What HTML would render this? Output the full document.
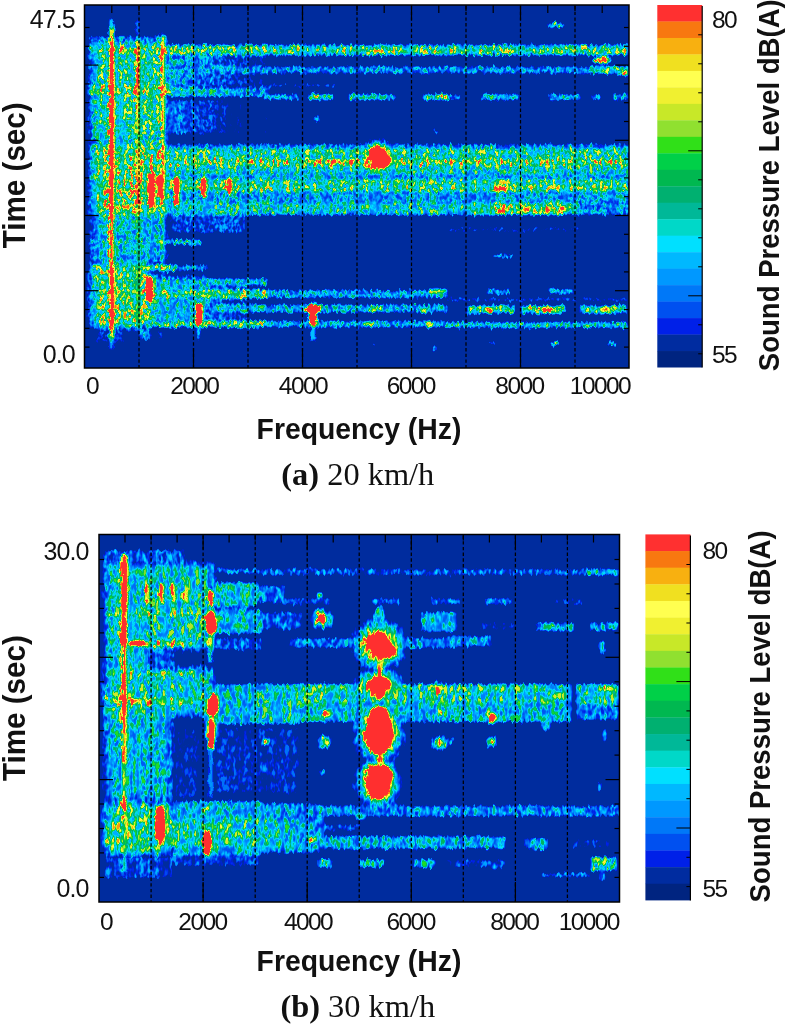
<!DOCTYPE html>
<html lang="en"><head><meta charset="utf-8"><title>Spectrograms</title>
<style>
html,body{margin:0;padding:0;background:#fff;}
body{width:785px;height:1024px;overflow:hidden;position:relative;}
svg{position:absolute;left:0;top:0;display:block;}
text{fill:#111;}
</style></head><body>
<svg width="785" height="1024" viewBox="0 0 785 1024">
<defs>
<filter id="f1" filterUnits="userSpaceOnUse" x="84.5" y="5" width="544.5" height="363" color-interpolation-filters="sRGB">
<feColorMatrix in="SourceGraphic" type="matrix" values="1 0 0 0 0  1 0 0 0 0  1 0 0 0 0  0 0 0 0 1" result="R0"/>
<feGaussianBlur in="R0" stdDeviation="1.6 1.1" result="IR1"/>
<feColorMatrix in="SourceGraphic" type="matrix" values="0 0 1 0 0  0 0 1 0 0  0 0 1 0 0  0 0 0 0 1" result="B0"/>
<feGaussianBlur in="B0" stdDeviation="5 3.5" result="IB"/>
<feBlend in="IR1" in2="IB" mode="lighten" result="IRa"/>
<feTurbulence type="fractalNoise" baseFrequency="0.42 0.05" numOctaves="1" seed="16" result="T3"/>
<feColorMatrix in="T3" type="matrix" values="0 0 0 0 0.5  0 1 0 0 0  0 0 0 0 0  0 0 0 0 1" result="D"/>
<feDisplacementMap in="IRa" in2="D" scale="7" xChannelSelector="R" yChannelSelector="G" result="IR"/>
<feColorMatrix in="SourceGraphic" type="matrix" values="0 1 0 0 0  0 1 0 0 0  0 1 0 0 0  0 0 0 0 1" result="G0"/>
<feGaussianBlur in="G0" stdDeviation="1.5 1.8" result="IG0"/>
<feTurbulence type="fractalNoise" baseFrequency="0.30 0.20" numOctaves="2" seed="7" result="T"/>
<feColorMatrix in="T" type="matrix" values="2.2 0 0 0 -0.6  2.2 0 0 0 -0.6  2.2 0 0 0 -0.6  0 0 0 0 1" result="N0"/>
<feComponentTransfer in="N0" result="N1"><feFuncR type="gamma" exponent="1.5"/><feFuncG type="gamma" exponent="1.5"/><feFuncB type="gamma" exponent="1.5"/></feComponentTransfer>
<feTurbulence type="fractalNoise" baseFrequency="0.2 0.012" numOctaves="2" seed="10" result="T2"/>
<feColorMatrix in="T2" type="matrix" values="0 2.4 0 0 -0.7  0 2.4 0 0 -0.7  0 2.4 0 0 -0.7  0 0 0 0 1" result="N2"/>
<feComposite in="N1" in2="N2" operator="arithmetic" k1="1.2" k2="0.4" k3="0" k4="0" result="N"/>
<feComposite in="IR" in2="N" operator="arithmetic" k1="1.120" k2="0.640" k3="0" k4="-0.10" result="VR"/>
<feDisplacementMap in="IG0" in2="T" scale="5" xChannelSelector="R" yChannelSelector="G" result="IG"/>
<feComposite in="VR" in2="IG" operator="arithmetic" k1="0" k2="1" k3="1.5" k4="0" result="V"/>
<feComponentTransfer in="V" result="C">
<feFuncR type="table" tableValues="0.000 0.000 0.000 0.000 0.000 0.000 0.000 0.000 0.000 0.000 0.000 0.000 0.000 0.188 0.565 0.784 0.941 1.000 0.941 0.973 0.973 1.000"/>
<feFuncG type="table" tableValues="0.173 0.173 0.125 0.314 0.471 0.596 0.722 0.878 0.847 0.722 0.690 0.722 0.816 0.878 0.878 0.910 0.941 1.000 0.878 0.690 0.471 0.188"/>
<feFuncB type="table" tableValues="0.620 0.620 0.910 0.941 0.973 1.000 1.000 1.000 0.784 0.596 0.439 0.314 0.282 0.094 0.188 0.157 0.188 0.314 0.125 0.063 0.063 0.188"/>
<feFuncA type="linear" slope="0" intercept="1"/>
</feComponentTransfer>
<feGaussianBlur stdDeviation="0.65"/>
</filter>
<filter id="f2" filterUnits="userSpaceOnUse" x="99" y="534.5" width="520.5" height="367.5" color-interpolation-filters="sRGB">
<feColorMatrix in="SourceGraphic" type="matrix" values="1 0 0 0 0  1 0 0 0 0  1 0 0 0 0  0 0 0 0 1" result="R0"/>
<feGaussianBlur in="R0" stdDeviation="1.6 1.1" result="IR1"/>
<feColorMatrix in="SourceGraphic" type="matrix" values="0 0 1 0 0  0 0 1 0 0  0 0 1 0 0  0 0 0 0 1" result="B0"/>
<feGaussianBlur in="B0" stdDeviation="5 3.5" result="IB"/>
<feBlend in="IR1" in2="IB" mode="lighten" result="IRa"/>
<feTurbulence type="fractalNoise" baseFrequency="0.42 0.05" numOctaves="1" seed="20" result="T3"/>
<feColorMatrix in="T3" type="matrix" values="0 0 0 0 0.5  0 1 0 0 0  0 0 0 0 0  0 0 0 0 1" result="D"/>
<feDisplacementMap in="IRa" in2="D" scale="7" xChannelSelector="R" yChannelSelector="G" result="IR"/>
<feColorMatrix in="SourceGraphic" type="matrix" values="0 1 0 0 0  0 1 0 0 0  0 1 0 0 0  0 0 0 0 1" result="G0"/>
<feGaussianBlur in="G0" stdDeviation="1.5 1.8" result="IG0"/>
<feTurbulence type="fractalNoise" baseFrequency="0.27 0.13" numOctaves="2" seed="11" result="T"/>
<feColorMatrix in="T" type="matrix" values="2.2 0 0 0 -0.6  2.2 0 0 0 -0.6  2.2 0 0 0 -0.6  0 0 0 0 1" result="N0"/>
<feComponentTransfer in="N0" result="N1"><feFuncR type="gamma" exponent="1.5"/><feFuncG type="gamma" exponent="1.5"/><feFuncB type="gamma" exponent="1.5"/></feComponentTransfer>
<feTurbulence type="fractalNoise" baseFrequency="0.2 0.012" numOctaves="2" seed="14" result="T2"/>
<feColorMatrix in="T2" type="matrix" values="0 2.4 0 0 -0.7  0 2.4 0 0 -0.7  0 2.4 0 0 -0.7  0 0 0 0 1" result="N2"/>
<feComposite in="N1" in2="N2" operator="arithmetic" k1="1.2" k2="0.4" k3="0" k4="0" result="N"/>
<feComposite in="IR" in2="N" operator="arithmetic" k1="1.120" k2="0.640" k3="0" k4="-0.10" result="VR"/>
<feDisplacementMap in="IG0" in2="T" scale="5" xChannelSelector="R" yChannelSelector="G" result="IG"/>
<feComposite in="VR" in2="IG" operator="arithmetic" k1="0" k2="1" k3="1.5" k4="0" result="V"/>
<feComponentTransfer in="V" result="C">
<feFuncR type="table" tableValues="0.000 0.000 0.000 0.000 0.000 0.000 0.000 0.000 0.000 0.000 0.000 0.000 0.000 0.188 0.565 0.784 0.941 1.000 0.941 0.973 0.973 1.000"/>
<feFuncG type="table" tableValues="0.173 0.173 0.125 0.314 0.471 0.596 0.722 0.878 0.847 0.722 0.690 0.722 0.816 0.878 0.878 0.910 0.941 1.000 0.878 0.690 0.471 0.188"/>
<feFuncB type="table" tableValues="0.620 0.620 0.910 0.941 0.973 1.000 1.000 1.000 0.784 0.596 0.439 0.314 0.282 0.094 0.188 0.157 0.188 0.314 0.125 0.063 0.063 0.188"/>
<feFuncA type="linear" slope="0" intercept="1"/>
</feComponentTransfer>
<feGaussianBlur stdDeviation="0.65"/>
</filter>
<linearGradient id="g1" x1="0" x2="1" y1="0" y2="0"><stop offset="0" stop-color="rgb(92,0,0)"/><stop offset="1" stop-color="rgb(20,0,0)"/></linearGradient>
<linearGradient id="g2" x1="0" x2="1" y1="0" y2="0"><stop offset="0" stop-color="rgb(82,0,0)"/><stop offset="1" stop-color="rgb(20,0,0)"/></linearGradient>
<linearGradient id="g3" x1="0" x2="1" y1="0" y2="0"><stop offset="0" stop-color="rgb(128,0,0)"/><stop offset="1" stop-color="rgb(76,0,0)"/></linearGradient>
<radialGradient id="r4"><stop offset="0" stop-color="rgb(255,0,0)"/><stop offset="1" stop-color="#000"/></radialGradient>
<radialGradient id="r5"><stop offset="0" stop-color="rgb(0,128,0)"/><stop offset="1" stop-color="#000"/></radialGradient>
<linearGradient id="g6" x1="0" x2="1" y1="0" y2="0"><stop offset="0" stop-color="rgb(76,0,0)"/><stop offset="1" stop-color="rgb(20,0,0)"/></linearGradient>
<radialGradient id="r7"><stop offset="0" stop-color="rgb(255,0,0)"/><stop offset="1" stop-color="#000"/></radialGradient>
<radialGradient id="r8"><stop offset="0" stop-color="rgb(230,0,0)"/><stop offset="1" stop-color="#000"/></radialGradient>
<radialGradient id="r9"><stop offset="0" stop-color="rgb(230,0,0)"/><stop offset="1" stop-color="#000"/></radialGradient>
<radialGradient id="r10"><stop offset="0" stop-color="rgb(255,0,0)"/><stop offset="1" stop-color="#000"/></radialGradient>
<radialGradient id="r11"><stop offset="0" stop-color="rgb(0,89,0)"/><stop offset="1" stop-color="#000"/></radialGradient>
<radialGradient id="r12"><stop offset="0" stop-color="rgb(255,0,0)"/><stop offset="1" stop-color="#000"/></radialGradient>
<radialGradient id="r13"><stop offset="0" stop-color="rgb(0,76,0)"/><stop offset="1" stop-color="#000"/></radialGradient>
<radialGradient id="r14"><stop offset="0" stop-color="rgb(255,0,0)"/><stop offset="1" stop-color="#000"/></radialGradient>
<radialGradient id="r15"><stop offset="0" stop-color="rgb(0,89,0)"/><stop offset="1" stop-color="#000"/></radialGradient>
<radialGradient id="r16"><stop offset="0" stop-color="rgb(255,0,0)"/><stop offset="1" stop-color="#000"/></radialGradient>
<radialGradient id="r17"><stop offset="0" stop-color="rgb(0,89,0)"/><stop offset="1" stop-color="#000"/></radialGradient>
<radialGradient id="r18"><stop offset="0" stop-color="rgb(230,0,0)"/><stop offset="1" stop-color="#000"/></radialGradient>
<radialGradient id="r19"><stop offset="0" stop-color="rgb(242,0,0)"/><stop offset="1" stop-color="#000"/></radialGradient>
<radialGradient id="r20"><stop offset="0" stop-color="rgb(230,0,0)"/><stop offset="1" stop-color="#000"/></radialGradient>
<radialGradient id="r21"><stop offset="0" stop-color="rgb(230,0,0)"/><stop offset="1" stop-color="#000"/></radialGradient>
<radialGradient id="r22"><stop offset="0" stop-color="rgb(230,0,0)"/><stop offset="1" stop-color="#000"/></radialGradient>
<radialGradient id="r23"><stop offset="0" stop-color="rgb(204,0,0)"/><stop offset="1" stop-color="#000"/></radialGradient>
<radialGradient id="r24"><stop offset="0" stop-color="rgb(191,0,0)"/><stop offset="1" stop-color="#000"/></radialGradient>
<radialGradient id="r25"><stop offset="0" stop-color="rgb(255,0,0)"/><stop offset="1" stop-color="#000"/></radialGradient>
<radialGradient id="r26"><stop offset="0" stop-color="rgb(255,0,0)"/><stop offset="1" stop-color="#000"/></radialGradient>
<radialGradient id="r27"><stop offset="0" stop-color="rgb(230,0,0)"/><stop offset="1" stop-color="#000"/></radialGradient>
<linearGradient id="g28" x1="0" x2="1" y1="0" y2="0"><stop offset="0" stop-color="rgb(97,0,0)"/><stop offset="1" stop-color="rgb(51,0,0)"/></linearGradient>
<linearGradient id="g29" x1="0" x2="1" y1="0" y2="0"><stop offset="0" stop-color="rgb(120,0,0)"/><stop offset="1" stop-color="rgb(76,0,0)"/></linearGradient>
</defs>
<g filter="url(#f1)"><rect x="84.5" y="5.0" width="544.5" height="363.0" fill="#000"/>
<rect x="91.0" y="40.0" width="75.0" height="94.0" fill="rgb(0,0,133)" opacity="1" style="mix-blend-mode:lighten"/>
<rect x="91.0" y="134.0" width="75.0" height="12.0" fill="rgb(0,0,107)" opacity="1" style="mix-blend-mode:lighten"/>
<rect x="91.0" y="146.0" width="81.0" height="68.0" fill="rgb(0,0,158)" opacity="1" style="mix-blend-mode:lighten"/>
<rect x="91.0" y="214.0" width="75.0" height="48.0" fill="rgb(0,0,97)" opacity="1" style="mix-blend-mode:lighten"/>
<rect x="91.0" y="264.0" width="59.0" height="64.0" fill="rgb(0,0,153)" opacity="1" style="mix-blend-mode:lighten"/>
<rect x="96.0" y="330.0" width="29.0" height="13.0" fill="rgb(46,0,0)" opacity="1" style="mix-blend-mode:lighten"/>
<rect x="89.0" y="36.0" width="79.0" height="6.0" fill="rgb(76,0,0)" opacity="1" style="mix-blend-mode:lighten"/>
<rect x="166.0" y="56.0" width="109.0" height="30.0" fill="url(#g1)" opacity="1" style="mix-blend-mode:lighten"/>
<rect x="166.0" y="100.0" width="84.0" height="34.0" fill="url(#g2)" opacity="1" style="mix-blend-mode:lighten"/>
<rect x="89.0" y="44.5" width="540.0" height="11.0" fill="rgb(115,0,0)" opacity="1" style="mix-blend-mode:lighten"/>
<rect x="89.0" y="47.8" width="540.0" height="5.5" fill="rgb(153,0,0)" opacity="1" style="mix-blend-mode:lighten"/>
<rect x="112.0" y="47.0" width="28.0" height="4.0" fill="rgb(204,0,0)" opacity="1" style="mix-blend-mode:lighten"/>
<rect x="165.0" y="66.5" width="435.0" height="7.0" fill="rgb(84,0,0)" opacity="1" style="mix-blend-mode:lighten"/>
<rect x="590.0" y="66.0" width="39.0" height="8.0" fill="rgb(133,0,0)" opacity="1" style="mix-blend-mode:lighten"/>
<ellipse cx="624.0" cy="73.0" rx="4.0" ry="2.0" fill="rgb(0,140,0)" opacity="1" style="mix-blend-mode:lighten"/>
<ellipse cx="602.0" cy="60.0" rx="6.0" ry="2.5" fill="rgb(0,128,0)" opacity="1" style="mix-blend-mode:lighten"/>
<ellipse cx="602.0" cy="60.0" rx="10.0" ry="4.0" fill="rgb(128,0,0)" opacity="1" style="mix-blend-mode:lighten"/>
<rect x="89.0" y="84.0" width="81.0" height="12.0" fill="rgb(158,0,0)" opacity="1" style="mix-blend-mode:lighten"/>
<rect x="170.0" y="87.0" width="100.0" height="10.0" fill="url(#g3)" opacity="1" style="mix-blend-mode:lighten"/>
<rect x="264.0" y="94.0" width="35.0" height="6.0" fill="rgb(82,0,0)" opacity="1" style="mix-blend-mode:lighten"/>
<rect x="308.0" y="94.0" width="26.0" height="6.0" fill="rgb(107,0,0)" opacity="1" style="mix-blend-mode:lighten"/>
<rect x="348.0" y="94.0" width="47.0" height="6.0" fill="rgb(115,0,0)" opacity="1" style="mix-blend-mode:lighten"/>
<rect x="423.0" y="94.0" width="25.0" height="6.0" fill="rgb(128,0,0)" opacity="1" style="mix-blend-mode:lighten"/>
<rect x="446.0" y="94.0" width="14.0" height="6.0" fill="rgb(76,0,0)" opacity="1" style="mix-blend-mode:lighten"/>
<rect x="481.0" y="94.0" width="38.0" height="6.0" fill="rgb(107,0,0)" opacity="1" style="mix-blend-mode:lighten"/>
<rect x="549.0" y="94.0" width="31.0" height="6.0" fill="rgb(102,0,0)" opacity="1" style="mix-blend-mode:lighten"/>
<rect x="591.0" y="94.0" width="10.0" height="6.0" fill="rgb(76,0,0)" opacity="1" style="mix-blend-mode:lighten"/>
<rect x="612.0" y="94.0" width="17.0" height="6.0" fill="rgb(92,0,0)" opacity="1" style="mix-blend-mode:lighten"/>
<rect x="264.0" y="84.0" width="76.0" height="3.0" fill="rgb(51,0,0)" opacity="1" style="mix-blend-mode:lighten"/>
<ellipse cx="317.0" cy="119.0" rx="2.5" ry="2.5" fill="rgb(153,0,0)" opacity="1" style="mix-blend-mode:lighten"/>
<ellipse cx="317.0" cy="97.0" rx="3.0" ry="3.0" fill="rgb(166,0,0)" opacity="1" style="mix-blend-mode:lighten"/>
<ellipse cx="444.0" cy="97.0" rx="3.0" ry="1.5" fill="rgb(0,115,0)" opacity="1" style="mix-blend-mode:lighten"/>
<ellipse cx="266.0" cy="119.0" rx="2.0" ry="2.0" fill="rgb(76,0,0)" opacity="1" style="mix-blend-mode:lighten"/>
<ellipse cx="266.0" cy="131.0" rx="2.0" ry="2.0" fill="rgb(76,0,0)" opacity="1" style="mix-blend-mode:lighten"/>
<ellipse cx="437.0" cy="131.0" rx="4.0" ry="2.0" fill="rgb(64,0,0)" opacity="1" style="mix-blend-mode:lighten"/>
<ellipse cx="503.0" cy="108.0" rx="2.0" ry="2.0" fill="rgb(64,0,0)" opacity="1" style="mix-blend-mode:lighten"/>
<ellipse cx="556.0" cy="25.0" rx="9.0" ry="2.5" fill="rgb(128,0,0)" opacity="1" style="mix-blend-mode:lighten"/>
<rect x="166.0" y="144.0" width="463.0" height="5.0" fill="rgb(76,0,0)" opacity="1" style="mix-blend-mode:lighten"/>
<rect x="166.0" y="148.0" width="463.0" height="26.0" fill="rgb(117,0,0)" opacity="1" style="mix-blend-mode:lighten"/>
<rect x="166.0" y="149.5" width="463.0" height="5.0" fill="rgb(138,0,0)" opacity="1" style="mix-blend-mode:lighten"/>
<rect x="166.0" y="158.5" width="463.0" height="7.0" fill="rgb(168,0,0)" opacity="1" style="mix-blend-mode:lighten"/>
<rect x="316.0" y="159.5" width="42.0" height="5.0" fill="rgb(217,0,0)" opacity="1" style="mix-blend-mode:lighten"/>
<ellipse cx="378.0" cy="158.0" rx="8.0" ry="9.5" fill="rgb(0,255,0)" opacity="1" style="mix-blend-mode:lighten"/>
<ellipse cx="384.0" cy="160.0" rx="6.0" ry="6.0" fill="rgb(0,255,0)" opacity="1" style="mix-blend-mode:lighten"/>
<ellipse cx="374.0" cy="153.0" rx="4.0" ry="5.0" fill="rgb(0,230,0)" opacity="1" style="mix-blend-mode:lighten"/>
<ellipse cx="377.0" cy="149.0" rx="2.5" ry="4.0" fill="rgb(0,178,0)" opacity="1" style="mix-blend-mode:lighten"/>
<ellipse cx="378.0" cy="158.0" rx="24.0" ry="22.0" fill="url(#r4)" style="mix-blend-mode:lighten"/>
<ellipse cx="378.0" cy="158.0" rx="17.0" ry="17.0" fill="url(#r5)" style="mix-blend-mode:lighten"/>
<rect x="166.0" y="174.0" width="463.0" height="6.0" fill="rgb(87,0,0)" opacity="1" style="mix-blend-mode:lighten"/>
<rect x="166.0" y="179.0" width="463.0" height="13.0" fill="rgb(122,0,0)" opacity="1" style="mix-blend-mode:lighten"/>
<rect x="166.0" y="180.2" width="463.0" height="4.5" fill="rgb(143,0,0)" opacity="1" style="mix-blend-mode:lighten"/>
<rect x="166.0" y="186.2" width="463.0" height="4.5" fill="rgb(153,0,0)" opacity="1" style="mix-blend-mode:lighten"/>
<ellipse cx="501.0" cy="188.0" rx="8.0" ry="2.0" fill="rgb(0,153,0)" opacity="1" style="mix-blend-mode:lighten"/>
<rect x="148.3" y="173.0" width="5.0" height="34.0" rx="2.5" fill="rgb(0,242,0)" opacity="1" style="mix-blend-mode:lighten"/>
<rect x="157.5" y="175.0" width="3.0" height="21.0" rx="1.5" fill="rgb(0,242,0)" opacity="1" style="mix-blend-mode:lighten"/>
<rect x="174.8" y="176.0" width="3.5" height="29.0" rx="1.8" fill="rgb(0,242,0)" opacity="1" style="mix-blend-mode:lighten"/>
<rect x="201.8" y="176.0" width="3.5" height="22.0" rx="1.8" fill="rgb(0,242,0)" opacity="1" style="mix-blend-mode:lighten"/>
<rect x="227.5" y="178.0" width="3.0" height="17.0" rx="1.5" fill="rgb(0,242,0)" opacity="1" style="mix-blend-mode:lighten"/>
<rect x="166.0" y="192.0" width="463.0" height="11.0" fill="rgb(87,0,0)" opacity="1" style="mix-blend-mode:lighten"/>
<rect x="170.0" y="203.0" width="94.0" height="12.0" fill="rgb(115,0,0)" opacity="1" style="mix-blend-mode:lighten"/>
<rect x="264.0" y="203.0" width="184.0" height="12.0" fill="rgb(117,0,0)" opacity="1" style="mix-blend-mode:lighten"/>
<rect x="446.0" y="203.0" width="24.0" height="12.0" fill="rgb(117,0,0)" opacity="1" style="mix-blend-mode:lighten"/>
<rect x="469.0" y="203.0" width="108.0" height="12.0" fill="rgb(153,0,0)" opacity="1" style="mix-blend-mode:lighten"/>
<ellipse cx="502.0" cy="209.0" rx="3.5" ry="1.8" fill="rgb(0,140,0)" opacity="1" style="mix-blend-mode:lighten"/>
<ellipse cx="526.0" cy="209.0" rx="3.5" ry="1.8" fill="rgb(0,140,0)" opacity="1" style="mix-blend-mode:lighten"/>
<ellipse cx="547.0" cy="209.0" rx="3.5" ry="1.8" fill="rgb(0,140,0)" opacity="1" style="mix-blend-mode:lighten"/>
<ellipse cx="563.0" cy="209.0" rx="3.5" ry="1.8" fill="rgb(0,140,0)" opacity="1" style="mix-blend-mode:lighten"/>
<rect x="577.0" y="203.0" width="52.0" height="12.0" fill="rgb(76,0,0)" opacity="1" style="mix-blend-mode:lighten"/>
<rect x="170.0" y="215.0" width="75.0" height="18.0" fill="rgb(56,0,0)" opacity="1" style="mix-blend-mode:lighten"/>
<rect x="446.0" y="228.0" width="134.0" height="3.0" fill="rgb(51,0,0)" opacity="1" style="mix-blend-mode:lighten"/>
<rect x="89.0" y="239.5" width="112.0" height="5.0" fill="rgb(122,0,0)" opacity="1" style="mix-blend-mode:lighten"/>
<ellipse cx="503.0" cy="256.0" rx="11.0" ry="2.0" fill="rgb(92,0,0)" opacity="1" style="mix-blend-mode:lighten"/>
<rect x="91.0" y="264.5" width="84.0" height="7.0" fill="rgb(148,0,0)" opacity="1" style="mix-blend-mode:lighten"/>
<rect x="175.0" y="265.0" width="33.0" height="6.0" fill="rgb(76,0,0)" opacity="1" style="mix-blend-mode:lighten"/>
<rect x="150.0" y="277.0" width="58.0" height="49.0" fill="rgb(0,0,102)" opacity="1" style="mix-blend-mode:lighten"/>
<rect x="205.0" y="278.0" width="50.0" height="49.0" fill="url(#g6)" opacity="1" style="mix-blend-mode:lighten"/>
<rect x="152.0" y="278.5" width="116.0" height="7.0" fill="rgb(107,0,0)" opacity="1" style="mix-blend-mode:lighten"/>
<rect x="150.0" y="289.5" width="118.0" height="9.0" fill="rgb(153,0,0)" opacity="1" style="mix-blend-mode:lighten"/>
<rect x="268.0" y="290.0" width="180.0" height="8.0" fill="rgb(87,0,0)" opacity="1" style="mix-blend-mode:lighten"/>
<ellipse cx="438.0" cy="291.0" rx="9.0" ry="1.8" fill="rgb(0,128,0)" opacity="1" style="mix-blend-mode:lighten"/>
<rect x="487.0" y="289.0" width="23.0" height="5.0" fill="rgb(107,0,0)" opacity="1" style="mix-blend-mode:lighten"/>
<rect x="549.0" y="289.0" width="24.0" height="5.0" fill="rgb(107,0,0)" opacity="1" style="mix-blend-mode:lighten"/>
<rect x="446.0" y="297.5" width="183.0" height="4.0" fill="rgb(51,0,0)" opacity="1" style="mix-blend-mode:lighten"/>
<rect x="213.0" y="304.5" width="55.0" height="8.0" fill="rgb(107,0,0)" opacity="1" style="mix-blend-mode:lighten"/>
<rect x="268.0" y="304.5" width="180.0" height="8.0" fill="rgb(92,0,0)" opacity="1" style="mix-blend-mode:lighten"/>
<ellipse cx="374.0" cy="308.0" rx="7.0" ry="3.0" fill="rgb(178,0,0)" opacity="1" style="mix-blend-mode:lighten"/>
<ellipse cx="426.0" cy="309.0" rx="3.0" ry="4.0" fill="rgb(178,0,0)" opacity="1" style="mix-blend-mode:lighten"/>
<rect x="467.0" y="305.5" width="47.0" height="8.0" fill="rgb(143,0,0)" opacity="1" style="mix-blend-mode:lighten"/>
<rect x="521.0" y="305.5" width="44.0" height="8.0" fill="rgb(153,0,0)" opacity="1" style="mix-blend-mode:lighten"/>
<rect x="580.0" y="305.5" width="46.0" height="8.0" fill="rgb(143,0,0)" opacity="1" style="mix-blend-mode:lighten"/>
<ellipse cx="489.0" cy="309.5" rx="3.5" ry="1.8" fill="rgb(0,153,0)" opacity="1" style="mix-blend-mode:lighten"/>
<ellipse cx="547.0" cy="309.5" rx="8.0" ry="1.8" fill="rgb(0,153,0)" opacity="1" style="mix-blend-mode:lighten"/>
<ellipse cx="605.0" cy="309.5" rx="5.0" ry="1.8" fill="rgb(0,153,0)" opacity="1" style="mix-blend-mode:lighten"/>
<rect x="150.0" y="320.8" width="118.0" height="6.5" fill="rgb(153,0,0)" opacity="1" style="mix-blend-mode:lighten"/>
<rect x="268.0" y="320.8" width="180.0" height="6.5" fill="rgb(92,0,0)" opacity="1" style="mix-blend-mode:lighten"/>
<rect x="446.0" y="322.0" width="183.0" height="6.0" fill="rgb(112,0,0)" opacity="1" style="mix-blend-mode:lighten"/>
<ellipse cx="369.0" cy="324.0" rx="5.0" ry="1.8" fill="rgb(0,128,0)" opacity="1" style="mix-blend-mode:lighten"/>
<ellipse cx="429.0" cy="324.0" rx="4.0" ry="1.8" fill="rgb(0,140,0)" opacity="1" style="mix-blend-mode:lighten"/>
<rect x="146.8" y="277.0" width="5.5" height="24.0" rx="2.8" fill="rgb(0,255,0)" opacity="1" style="mix-blend-mode:lighten"/>
<rect x="196.2" y="303.0" width="5.5" height="21.0" rx="2.8" fill="rgb(0,255,0)" opacity="1" style="mix-blend-mode:lighten"/>
<ellipse cx="313.0" cy="309.0" rx="7.5" ry="4.5" fill="rgb(0,255,0)" opacity="1" style="mix-blend-mode:lighten"/>
<ellipse cx="313.0" cy="319.0" rx="3.5" ry="6.5" fill="rgb(0,255,0)" opacity="1" style="mix-blend-mode:lighten"/>
<rect x="311.8" y="322.0" width="2.5" height="19.0" rx="1.2" fill="rgb(0,89,0)" opacity="1" style="mix-blend-mode:lighten"/>
<ellipse cx="492.0" cy="343.5" rx="3.0" ry="1.5" fill="rgb(89,0,0)" opacity="1" style="mix-blend-mode:lighten"/>
<ellipse cx="555.0" cy="343.5" rx="4.0" ry="2.0" fill="rgb(178,0,0)" opacity="1" style="mix-blend-mode:lighten"/>
<ellipse cx="612.0" cy="343.5" rx="5.0" ry="2.0" fill="rgb(128,0,0)" opacity="1" style="mix-blend-mode:lighten"/>
<ellipse cx="374.0" cy="343.5" rx="3.0" ry="1.2" fill="rgb(76,0,0)" opacity="1" style="mix-blend-mode:lighten"/>
<ellipse cx="435.0" cy="348.0" rx="3.0" ry="3.0" fill="rgb(76,0,0)" opacity="1" style="mix-blend-mode:lighten"/>
<rect x="138.0" y="329.0" width="14.0" height="11.0" fill="rgb(76,0,0)" opacity="1" style="mix-blend-mode:lighten"/>
<ellipse cx="161.0" cy="335.0" rx="2.0" ry="4.0" fill="rgb(76,0,0)" opacity="1" style="mix-blend-mode:lighten"/>
<ellipse cx="199.0" cy="332.0" rx="2.0" ry="8.0" fill="rgb(102,0,0)" opacity="1" style="mix-blend-mode:lighten"/>
<rect x="110.7" y="19.0" width="1.6" height="12.0" rx="0.8" fill="rgb(0,153,0)" opacity="1" style="mix-blend-mode:lighten"/>
<rect x="110.3" y="28.0" width="2.4" height="310.0" rx="1.2" fill="rgb(0,255,0)" opacity="1" style="mix-blend-mode:lighten"/>
<rect x="110.7" y="336.0" width="1.6" height="13.0" rx="0.8" fill="rgb(0,102,0)" opacity="1" style="mix-blend-mode:lighten"/>
<rect x="136.8" y="21.0" width="1.5" height="13.0" rx="0.8" fill="rgb(0,89,0)" opacity="1" style="mix-blend-mode:lighten"/>
<rect x="136.6" y="40.0" width="1.9" height="175.0" rx="0.9" fill="rgb(0,158,0)" opacity="1" style="mix-blend-mode:lighten"/>
<rect x="136.7" y="215.0" width="1.6" height="115.0" rx="0.8" fill="rgb(0,89,0)" opacity="1" style="mix-blend-mode:lighten"/>
<rect x="161.5" y="35.0" width="2.0" height="90.0" rx="1.0" fill="rgb(0,204,0)" opacity="1" style="mix-blend-mode:lighten"/>
<rect x="161.6" y="125.0" width="1.8" height="75.0" rx="0.9" fill="rgb(0,153,0)" opacity="1" style="mix-blend-mode:lighten"/>
<rect x="161.8" y="200.0" width="1.5" height="100.0" rx="0.8" fill="rgb(0,64,0)" opacity="1" style="mix-blend-mode:lighten"/>
</g>
<g filter="url(#f2)"><rect x="99.0" y="534.5" width="520.5" height="367.5" fill="#000"/>
<rect x="104.0" y="562.0" width="110.0" height="50.0" fill="rgb(0,0,110)" opacity="1" style="mix-blend-mode:lighten"/>
<rect x="104.0" y="612.0" width="110.0" height="38.0" fill="rgb(0,0,115)" opacity="1" style="mix-blend-mode:lighten"/>
<rect x="104.0" y="650.0" width="46.0" height="20.0" fill="rgb(0,0,102)" opacity="1" style="mix-blend-mode:lighten"/>
<rect x="150.0" y="650.0" width="25.0" height="18.0" fill="rgb(56,0,0)" opacity="1" style="mix-blend-mode:lighten"/>
<rect x="104.0" y="668.0" width="110.0" height="48.0" fill="rgb(0,0,120)" opacity="1" style="mix-blend-mode:lighten"/>
<rect x="104.0" y="716.0" width="68.0" height="82.0" fill="rgb(0,0,102)" opacity="1" style="mix-blend-mode:lighten"/>
<rect x="174.0" y="730.0" width="26.0" height="68.0" fill="rgb(36,0,0)" opacity="1" style="mix-blend-mode:lighten"/>
<rect x="103.0" y="550.0" width="82.0" height="14.0" fill="rgb(61,0,0)" opacity="1" style="mix-blend-mode:lighten"/>
<rect x="104.0" y="611.5" width="96.0" height="6.0" fill="rgb(153,0,0)" opacity="1" style="mix-blend-mode:lighten"/>
<rect x="127.0" y="640.0" width="59.0" height="7.0" fill="rgb(178,0,0)" opacity="1" style="mix-blend-mode:lighten"/>
<ellipse cx="138.0" cy="643.5" rx="10.0" ry="2.0" fill="rgb(0,153,0)" opacity="1" style="mix-blend-mode:lighten"/>
<rect x="127.0" y="671.0" width="68.0" height="6.0" fill="rgb(153,0,0)" opacity="1" style="mix-blend-mode:lighten"/>
<rect x="104.0" y="696.0" width="99.0" height="10.0" fill="rgb(163,0,0)" opacity="1" style="mix-blend-mode:lighten"/>
<ellipse cx="134.0" cy="701.0" rx="4.0" ry="2.0" fill="rgb(0,128,0)" opacity="1" style="mix-blend-mode:lighten"/>
<rect x="200.0" y="568.5" width="62.0" height="5.0" fill="rgb(76,0,0)" opacity="1" style="mix-blend-mode:lighten"/>
<rect x="214.0" y="582.0" width="44.0" height="24.0" fill="rgb(107,0,0)" opacity="1" style="mix-blend-mode:lighten"/>
<rect x="258.0" y="586.0" width="27.0" height="16.0" fill="rgb(71,0,0)" opacity="1" style="mix-blend-mode:lighten"/>
<rect x="214.0" y="609.0" width="48.0" height="25.0" fill="rgb(102,0,0)" opacity="1" style="mix-blend-mode:lighten"/>
<rect x="262.0" y="612.0" width="38.0" height="18.0" fill="rgb(64,0,0)" opacity="1" style="mix-blend-mode:lighten"/>
<rect x="214.0" y="638.0" width="48.0" height="12.0" fill="rgb(61,0,0)" opacity="1" style="mix-blend-mode:lighten"/>
<rect x="214.0" y="604.0" width="36.0" height="8.0" fill="rgb(51,0,0)" opacity="1" style="mix-blend-mode:lighten"/>
<rect x="262.0" y="568.8" width="183.0" height="6.5" fill="rgb(64,0,0)" opacity="1" style="mix-blend-mode:lighten"/>
<rect x="445.0" y="568.8" width="138.0" height="6.5" fill="rgb(61,0,0)" opacity="1" style="mix-blend-mode:lighten"/>
<rect x="583.0" y="568.8" width="36.0" height="6.5" fill="rgb(102,0,0)" opacity="1" style="mix-blend-mode:lighten"/>
<ellipse cx="612.0" cy="572.5" rx="6.0" ry="2.5" fill="rgb(128,0,0)" opacity="1" style="mix-blend-mode:lighten"/>
<rect x="271.0" y="598.2" width="59.0" height="6.5" fill="rgb(64,0,0)" opacity="1" style="mix-blend-mode:lighten"/>
<rect x="372.0" y="598.2" width="28.0" height="6.5" fill="rgb(64,0,0)" opacity="1" style="mix-blend-mode:lighten"/>
<rect x="430.0" y="598.2" width="30.0" height="6.5" fill="rgb(71,0,0)" opacity="1" style="mix-blend-mode:lighten"/>
<rect x="485.0" y="598.2" width="26.0" height="6.5" fill="rgb(82,0,0)" opacity="1" style="mix-blend-mode:lighten"/>
<rect x="555.0" y="598.2" width="30.0" height="6.5" fill="rgb(41,0,0)" opacity="1" style="mix-blend-mode:lighten"/>
<ellipse cx="320.0" cy="595.0" rx="2.5" ry="3.0" fill="rgb(153,0,0)" opacity="1" style="mix-blend-mode:lighten"/>
<rect x="271.0" y="612.0" width="31.0" height="18.0" fill="rgb(51,0,0)" opacity="1" style="mix-blend-mode:lighten"/>
<ellipse cx="321.5" cy="619.0" rx="14.0" ry="13.0" fill="url(#r7)" style="mix-blend-mode:lighten"/>
<ellipse cx="321.5" cy="618.7" rx="3.0" ry="4.0" fill="rgb(0,204,0)" opacity="1" style="mix-blend-mode:lighten"/>
<rect x="421.0" y="612.0" width="36.0" height="20.0" fill="rgb(102,0,0)" opacity="1" style="mix-blend-mode:lighten"/>
<ellipse cx="433.0" cy="620.0" rx="2.5" ry="6.0" fill="rgb(166,0,0)" opacity="1" style="mix-blend-mode:lighten"/>
<rect x="478.0" y="622.0" width="37.0" height="8.0" fill="rgb(36,0,0)" opacity="1" style="mix-blend-mode:lighten"/>
<rect x="536.0" y="622.5" width="38.0" height="8.0" fill="rgb(92,0,0)" opacity="1" style="mix-blend-mode:lighten"/>
<ellipse cx="557.5" cy="626.5" rx="7.0" ry="2.5" fill="rgb(128,0,0)" opacity="1" style="mix-blend-mode:lighten"/>
<rect x="590.0" y="622.5" width="29.0" height="8.0" fill="rgb(92,0,0)" opacity="1" style="mix-blend-mode:lighten"/>
<ellipse cx="614.0" cy="626.5" rx="4.0" ry="3.0" fill="rgb(128,0,0)" opacity="1" style="mix-blend-mode:lighten"/>
<rect x="290.0" y="638.0" width="70.0" height="10.0" fill="rgb(71,0,0)" opacity="1" style="mix-blend-mode:lighten"/>
<rect x="400.0" y="638.0" width="55.0" height="10.0" fill="rgb(82,0,0)" opacity="1" style="mix-blend-mode:lighten"/>
<rect x="445.0" y="635.5" width="47.0" height="11.0" fill="rgb(82,0,0)" opacity="1" style="mix-blend-mode:lighten"/>
<ellipse cx="602.0" cy="647.0" rx="3.5" ry="7.0" fill="rgb(107,0,0)" opacity="1" style="mix-blend-mode:lighten"/>
<rect x="208.7" y="590.0" width="4.0" height="16.0" rx="2.0" fill="rgb(0,230,0)" opacity="1" style="mix-blend-mode:lighten"/>
<ellipse cx="210.7" cy="623.0" rx="4.8" ry="11.0" fill="rgb(0,255,0)" opacity="1" style="mix-blend-mode:lighten"/>
<ellipse cx="210.7" cy="623.0" rx="11.0" ry="19.0" fill="url(#r8)" style="mix-blend-mode:lighten"/>
<rect x="209.2" y="634.0" width="3.0" height="28.0" rx="1.5" fill="rgb(0,115,0)" opacity="1" style="mix-blend-mode:lighten"/>
<ellipse cx="213.0" cy="704.0" rx="4.8" ry="11.0" fill="rgb(0,255,0)" opacity="1" style="mix-blend-mode:lighten"/>
<ellipse cx="211.0" cy="735.0" rx="3.2" ry="15.0" fill="rgb(0,255,0)" opacity="1" style="mix-blend-mode:lighten"/>
<ellipse cx="212.0" cy="715.0" rx="11.0" ry="32.0" fill="url(#r9)" style="mix-blend-mode:lighten"/>
<rect x="209.8" y="750.0" width="1.8" height="48.0" rx="0.9" fill="rgb(0,89,0)" opacity="1" style="mix-blend-mode:lighten"/>
<rect x="145.7" y="584.0" width="2.6" height="19.0" rx="1.3" fill="rgb(0,153,0)" opacity="1" style="mix-blend-mode:lighten"/>
<rect x="160.2" y="584.0" width="2.6" height="19.0" rx="1.3" fill="rgb(0,217,0)" opacity="1" style="mix-blend-mode:lighten"/>
<rect x="171.7" y="584.0" width="2.6" height="19.0" rx="1.3" fill="rgb(0,140,0)" opacity="1" style="mix-blend-mode:lighten"/>
<rect x="184.7" y="584.0" width="2.6" height="19.0" rx="1.3" fill="rgb(0,140,0)" opacity="1" style="mix-blend-mode:lighten"/>
<rect x="146.0" y="560.0" width="2.0" height="156.0" rx="1.0" fill="rgb(128,0,0)" opacity="1" style="mix-blend-mode:lighten"/>
<rect x="160.5" y="560.0" width="2.0" height="156.0" rx="1.0" fill="rgb(128,0,0)" opacity="1" style="mix-blend-mode:lighten"/>
<ellipse cx="379.0" cy="645.0" rx="34.0" ry="31.0" fill="url(#r10)" style="mix-blend-mode:lighten"/>
<ellipse cx="379.0" cy="645.0" rx="25.0" ry="23.0" fill="url(#r11)" style="mix-blend-mode:lighten"/>
<ellipse cx="379.0" cy="620.0" rx="6.0" ry="14.0" fill="rgb(107,0,0)" opacity="1" style="mix-blend-mode:lighten"/>
<ellipse cx="380.0" cy="647.0" rx="10.5" ry="8.5" fill="rgb(0,255,0)" opacity="1" style="mix-blend-mode:lighten"/>
<ellipse cx="373.0" cy="643.0" rx="6.5" ry="6.5" fill="rgb(0,255,0)" opacity="1" style="mix-blend-mode:lighten"/>
<ellipse cx="389.0" cy="651.0" rx="6.5" ry="5.5" fill="rgb(0,255,0)" opacity="1" style="mix-blend-mode:lighten"/>
<ellipse cx="380.0" cy="638.0" rx="5.5" ry="4.5" fill="rgb(0,255,0)" opacity="1" style="mix-blend-mode:lighten"/>
<ellipse cx="380.0" cy="668.0" rx="3.0" ry="7.0" fill="rgb(0,128,0)" opacity="1" style="mix-blend-mode:lighten"/>
<ellipse cx="379.0" cy="684.0" rx="10.5" ry="6.5" fill="rgb(0,255,0)" opacity="1" style="mix-blend-mode:lighten"/>
<ellipse cx="379.0" cy="694.0" rx="5.0" ry="5.0" fill="rgb(0,178,0)" opacity="1" style="mix-blend-mode:lighten"/>
<ellipse cx="379.0" cy="686.0" rx="30.0" ry="22.0" fill="url(#r12)" style="mix-blend-mode:lighten"/>
<ellipse cx="379.0" cy="686.0" rx="21.0" ry="16.0" fill="url(#r13)" style="mix-blend-mode:lighten"/>
<ellipse cx="379.0" cy="733.0" rx="13.0" ry="21.0" fill="rgb(0,255,0)" opacity="1" style="mix-blend-mode:lighten"/>
<ellipse cx="379.0" cy="715.0" rx="9.0" ry="8.0" fill="rgb(0,255,0)" opacity="1" style="mix-blend-mode:lighten"/>
<ellipse cx="379.0" cy="733.0" rx="31.0" ry="38.0" fill="url(#r14)" style="mix-blend-mode:lighten"/>
<ellipse cx="379.0" cy="733.0" rx="22.0" ry="29.0" fill="url(#r15)" style="mix-blend-mode:lighten"/>
<ellipse cx="378.0" cy="784.0" rx="11.0" ry="15.0" fill="rgb(0,255,0)" opacity="1" style="mix-blend-mode:lighten"/>
<ellipse cx="384.0" cy="775.0" rx="8.0" ry="9.0" fill="rgb(0,255,0)" opacity="1" style="mix-blend-mode:lighten"/>
<ellipse cx="372.0" cy="772.0" rx="5.0" ry="6.0" fill="rgb(0,230,0)" opacity="1" style="mix-blend-mode:lighten"/>
<ellipse cx="378.0" cy="783.0" rx="29.0" ry="31.0" fill="url(#r16)" style="mix-blend-mode:lighten"/>
<ellipse cx="378.0" cy="783.0" rx="21.0" ry="23.0" fill="url(#r17)" style="mix-blend-mode:lighten"/>
<ellipse cx="380.0" cy="760.0" rx="3.5" ry="5.0" fill="rgb(0,128,0)" opacity="1" style="mix-blend-mode:lighten"/>
<rect x="214.0" y="684.0" width="86.0" height="40.0" fill="rgb(102,0,0)" opacity="1" style="mix-blend-mode:lighten"/>
<rect x="256.0" y="690.0" width="44.0" height="32.0" fill="rgb(112,0,0)" opacity="1" style="mix-blend-mode:lighten"/>
<rect x="290.0" y="684.0" width="282.0" height="18.0" fill="rgb(120,0,0)" opacity="1" style="mix-blend-mode:lighten"/>
<rect x="290.0" y="700.0" width="282.0" height="22.0" fill="rgb(99,0,0)" opacity="1" style="mix-blend-mode:lighten"/>
<rect x="576.0" y="684.0" width="43.0" height="20.0" fill="rgb(117,0,0)" opacity="1" style="mix-blend-mode:lighten"/>
<rect x="576.0" y="704.0" width="43.0" height="16.0" fill="rgb(76,0,0)" opacity="1" style="mix-blend-mode:lighten"/>
<ellipse cx="325.0" cy="692.0" rx="11.0" ry="10.0" fill="url(#r18)" style="mix-blend-mode:lighten"/>
<ellipse cx="327.0" cy="713.0" rx="11.0" ry="11.0" fill="url(#r19)" style="mix-blend-mode:lighten"/>
<ellipse cx="437.0" cy="692.0" rx="10.0" ry="13.0" fill="url(#r20)" style="mix-blend-mode:lighten"/>
<ellipse cx="440.0" cy="712.0" rx="9.0" ry="8.0" fill="url(#r21)" style="mix-blend-mode:lighten"/>
<ellipse cx="327.0" cy="714.0" rx="2.5" ry="2.5" fill="rgb(0,128,0)" opacity="1" style="mix-blend-mode:lighten"/>
<ellipse cx="437.0" cy="690.0" rx="2.0" ry="4.0" fill="rgb(0,115,0)" opacity="1" style="mix-blend-mode:lighten"/>
<ellipse cx="609.0" cy="688.0" rx="3.0" ry="2.5" fill="rgb(0,128,0)" opacity="1" style="mix-blend-mode:lighten"/>
<ellipse cx="492.0" cy="718.0" rx="2.5" ry="5.0" fill="rgb(0,153,0)" opacity="1" style="mix-blend-mode:lighten"/>
<ellipse cx="492.0" cy="716.0" rx="9.0" ry="12.0" fill="url(#r22)" style="mix-blend-mode:lighten"/>
<ellipse cx="546.0" cy="700.0" rx="9.0" ry="12.0" fill="url(#r23)" style="mix-blend-mode:lighten"/>
<ellipse cx="600.0" cy="700.0" rx="9.0" ry="12.0" fill="url(#r24)" style="mix-blend-mode:lighten"/>
<rect x="214.0" y="728.0" width="86.0" height="65.0" fill="rgb(41,0,0)" opacity="1" style="mix-blend-mode:lighten"/>
<ellipse cx="266.0" cy="742.0" rx="3.0" ry="3.0" fill="rgb(178,0,0)" opacity="1" style="mix-blend-mode:lighten"/>
<ellipse cx="264.6" cy="770.0" rx="2.5" ry="4.0" fill="rgb(128,0,0)" opacity="1" style="mix-blend-mode:lighten"/>
<ellipse cx="325.0" cy="742.0" rx="9.0" ry="9.0" fill="url(#r25)" style="mix-blend-mode:lighten"/>
<ellipse cx="325.0" cy="742.0" rx="1.8" ry="1.8" fill="rgb(0,128,0)" opacity="1" style="mix-blend-mode:lighten"/>
<ellipse cx="440.0" cy="743.0" rx="11.0" ry="9.0" fill="url(#r26)" style="mix-blend-mode:lighten"/>
<ellipse cx="440.0" cy="743.0" rx="2.0" ry="1.8" fill="rgb(0,128,0)" opacity="1" style="mix-blend-mode:lighten"/>
<ellipse cx="322.6" cy="772.0" rx="2.5" ry="3.0" fill="rgb(128,0,0)" opacity="1" style="mix-blend-mode:lighten"/>
<ellipse cx="492.0" cy="742.0" rx="7.0" ry="8.0" fill="url(#r27)" style="mix-blend-mode:lighten"/>
<ellipse cx="452.0" cy="740.6" rx="3.0" ry="3.0" fill="rgb(76,0,0)" opacity="1" style="mix-blend-mode:lighten"/>
<ellipse cx="604.4" cy="736.0" rx="2.0" ry="7.0" fill="rgb(89,0,0)" opacity="1" style="mix-blend-mode:lighten"/>
<ellipse cx="600.0" cy="786.0" rx="2.0" ry="4.0" fill="rgb(115,0,0)" opacity="1" style="mix-blend-mode:lighten"/>
<ellipse cx="546.0" cy="726.0" rx="4.0" ry="6.0" fill="rgb(115,0,0)" opacity="1" style="mix-blend-mode:lighten"/>
<rect x="104.0" y="802.0" width="68.0" height="53.0" fill="rgb(0,0,133)" opacity="1" style="mix-blend-mode:lighten"/>
<rect x="104.0" y="819.0" width="68.0" height="28.0" fill="rgb(148,0,0)" opacity="1" style="mix-blend-mode:lighten"/>
<rect x="172.0" y="801.0" width="90.0" height="54.0" fill="rgb(97,0,0)" opacity="1" style="mix-blend-mode:lighten"/>
<rect x="172.0" y="819.0" width="90.0" height="28.0" fill="rgb(120,0,0)" opacity="1" style="mix-blend-mode:lighten"/>
<rect x="262.0" y="803.0" width="63.0" height="50.0" fill="url(#g28)" opacity="1" style="mix-blend-mode:lighten"/>
<rect x="262.0" y="820.0" width="63.0" height="27.0" fill="url(#g29)" opacity="1" style="mix-blend-mode:lighten"/>
<rect x="104.0" y="857.0" width="68.0" height="21.0" fill="rgb(56,0,0)" opacity="1" style="mix-blend-mode:lighten"/>
<rect x="172.0" y="855.0" width="88.0" height="11.0" fill="rgb(51,0,0)" opacity="1" style="mix-blend-mode:lighten"/>
<ellipse cx="160.3" cy="825.0" rx="3.8" ry="20.0" fill="rgb(0,255,0)" opacity="1" style="mix-blend-mode:lighten"/>
<ellipse cx="207.0" cy="843.0" rx="3.8" ry="12.0" fill="rgb(0,255,0)" opacity="1" style="mix-blend-mode:lighten"/>
<ellipse cx="207.0" cy="808.6" rx="2.2" ry="2.2" fill="rgb(0,153,0)" opacity="1" style="mix-blend-mode:lighten"/>
<ellipse cx="223.6" cy="832.0" rx="2.5" ry="8.0" fill="rgb(191,0,0)" opacity="1" style="mix-blend-mode:lighten"/>
<rect x="122.8" y="716.0" width="2.4" height="49.0" rx="1.2" fill="rgb(0,204,0)" opacity="1" style="mix-blend-mode:lighten"/>
<rect x="123.2" y="765.0" width="1.6" height="31.0" rx="0.8" fill="rgb(0,102,0)" opacity="1" style="mix-blend-mode:lighten"/>
<rect x="122.6" y="796.0" width="2.8" height="15.0" rx="1.4" fill="rgb(0,230,0)" opacity="1" style="mix-blend-mode:lighten"/>
<rect x="123.2" y="811.0" width="1.6" height="61.0" rx="0.8" fill="rgb(0,115,0)" opacity="1" style="mix-blend-mode:lighten"/>
<rect x="281.0" y="805.5" width="338.0" height="11.0" fill="rgb(79,0,0)" opacity="1" style="mix-blend-mode:lighten"/>
<ellipse cx="321.0" cy="808.0" rx="3.0" ry="4.0" fill="rgb(153,0,0)" opacity="1" style="mix-blend-mode:lighten"/>
<ellipse cx="360.0" cy="817.0" rx="5.0" ry="1.6" fill="rgb(0,128,0)" opacity="1" style="mix-blend-mode:lighten"/>
<rect x="271.0" y="824.5" width="89.0" height="6.0" fill="rgb(56,0,0)" opacity="1" style="mix-blend-mode:lighten"/>
<rect x="281.0" y="836.0" width="225.0" height="13.0" fill="rgb(92,0,0)" opacity="1" style="mix-blend-mode:lighten"/>
<rect x="525.0" y="838.0" width="23.0" height="11.0" fill="rgb(87,0,0)" opacity="1" style="mix-blend-mode:lighten"/>
<rect x="570.0" y="839.5" width="40.0" height="8.0" fill="rgb(41,0,0)" opacity="1" style="mix-blend-mode:lighten"/>
<ellipse cx="312.0" cy="839.0" rx="4.0" ry="1.8" fill="rgb(0,140,0)" opacity="1" style="mix-blend-mode:lighten"/>
<ellipse cx="423.0" cy="842.0" rx="4.0" ry="6.0" fill="rgb(128,0,0)" opacity="1" style="mix-blend-mode:lighten"/>
<rect x="318.0" y="859.5" width="14.0" height="8.0" fill="rgb(128,0,0)" opacity="1" style="mix-blend-mode:lighten"/>
<rect x="360.0" y="859.5" width="24.0" height="8.0" fill="rgb(102,0,0)" opacity="1" style="mix-blend-mode:lighten"/>
<rect x="414.0" y="859.5" width="21.0" height="8.0" fill="rgb(102,0,0)" opacity="1" style="mix-blend-mode:lighten"/>
<rect x="445.0" y="859.5" width="61.0" height="8.0" fill="rgb(51,0,0)" opacity="1" style="mix-blend-mode:lighten"/>
<ellipse cx="495.0" cy="868.0" rx="2.5" ry="3.0" fill="rgb(128,0,0)" opacity="1" style="mix-blend-mode:lighten"/>
<rect x="590.0" y="857.0" width="27.0" height="14.0" fill="rgb(117,0,0)" opacity="1" style="mix-blend-mode:lighten"/>
<ellipse cx="602.0" cy="863.0" rx="3.0" ry="2.0" fill="rgb(0,102,0)" opacity="1" style="mix-blend-mode:lighten"/>
<ellipse cx="602.0" cy="876.0" rx="2.5" ry="6.0" fill="rgb(102,0,0)" opacity="1" style="mix-blend-mode:lighten"/>
<rect x="541.0" y="873.0" width="49.0" height="4.0" fill="rgb(76,0,0)" opacity="1" style="mix-blend-mode:lighten"/>
<rect x="121.7" y="555.0" width="4.6" height="56.0" rx="2.3" fill="rgb(0,255,0)" opacity="1" style="mix-blend-mode:lighten"/>
<rect x="122.8" y="608.0" width="2.4" height="16.0" rx="1.2" fill="rgb(0,230,0)" opacity="1" style="mix-blend-mode:lighten"/>
<rect x="121.9" y="621.0" width="4.2" height="25.0" rx="2.1" fill="rgb(0,255,0)" opacity="1" style="mix-blend-mode:lighten"/>
<rect x="122.6" y="644.0" width="2.8" height="72.0" rx="1.4" fill="rgb(0,230,0)" opacity="1" style="mix-blend-mode:lighten"/>
</g>
<line x1="111.8" y1="5.0" x2="111.8" y2="13.0" stroke="#000" stroke-width="1.2"/>
<line x1="139.0" y1="6.0" x2="139.0" y2="368.0" stroke="#000" stroke-width="1.25" stroke-dasharray="3.4 2.3"/>
<line x1="139.0" y1="5.0" x2="139.0" y2="11.0" stroke="#000" stroke-width="1.2"/>
<line x1="166.2" y1="5.0" x2="166.2" y2="13.0" stroke="#000" stroke-width="1.2"/>
<line x1="193.5" y1="6.0" x2="193.5" y2="368.0" stroke="#000" stroke-width="1.25" stroke-dasharray="3.4 2.3"/>
<line x1="193.5" y1="348.0" x2="193.5" y2="368.0" stroke="#000" stroke-width="1.2"/>
<line x1="193.5" y1="5.0" x2="193.5" y2="20.0" stroke="#000" stroke-width="1.2"/>
<line x1="220.8" y1="5.0" x2="220.8" y2="13.0" stroke="#000" stroke-width="1.2"/>
<line x1="248.0" y1="6.0" x2="248.0" y2="368.0" stroke="#000" stroke-width="1.25" stroke-dasharray="3.4 2.3"/>
<line x1="248.0" y1="5.0" x2="248.0" y2="11.0" stroke="#000" stroke-width="1.2"/>
<line x1="275.2" y1="5.0" x2="275.2" y2="13.0" stroke="#000" stroke-width="1.2"/>
<line x1="302.5" y1="6.0" x2="302.5" y2="368.0" stroke="#000" stroke-width="1.25" stroke-dasharray="3.4 2.3"/>
<line x1="302.5" y1="348.0" x2="302.5" y2="368.0" stroke="#000" stroke-width="1.2"/>
<line x1="302.5" y1="5.0" x2="302.5" y2="20.0" stroke="#000" stroke-width="1.2"/>
<line x1="329.8" y1="5.0" x2="329.8" y2="13.0" stroke="#000" stroke-width="1.2"/>
<line x1="357.0" y1="6.0" x2="357.0" y2="368.0" stroke="#000" stroke-width="1.25" stroke-dasharray="3.4 2.3"/>
<line x1="357.0" y1="5.0" x2="357.0" y2="11.0" stroke="#000" stroke-width="1.2"/>
<line x1="384.2" y1="5.0" x2="384.2" y2="13.0" stroke="#000" stroke-width="1.2"/>
<line x1="411.5" y1="6.0" x2="411.5" y2="368.0" stroke="#000" stroke-width="1.25" stroke-dasharray="3.4 2.3"/>
<line x1="411.5" y1="348.0" x2="411.5" y2="368.0" stroke="#000" stroke-width="1.2"/>
<line x1="411.5" y1="5.0" x2="411.5" y2="20.0" stroke="#000" stroke-width="1.2"/>
<line x1="438.8" y1="5.0" x2="438.8" y2="13.0" stroke="#000" stroke-width="1.2"/>
<line x1="466.0" y1="6.0" x2="466.0" y2="368.0" stroke="#000" stroke-width="1.25" stroke-dasharray="3.4 2.3"/>
<line x1="466.0" y1="5.0" x2="466.0" y2="11.0" stroke="#000" stroke-width="1.2"/>
<line x1="493.2" y1="5.0" x2="493.2" y2="13.0" stroke="#000" stroke-width="1.2"/>
<line x1="520.5" y1="6.0" x2="520.5" y2="368.0" stroke="#000" stroke-width="1.25" stroke-dasharray="3.4 2.3"/>
<line x1="520.5" y1="348.0" x2="520.5" y2="368.0" stroke="#000" stroke-width="1.2"/>
<line x1="520.5" y1="5.0" x2="520.5" y2="20.0" stroke="#000" stroke-width="1.2"/>
<line x1="547.8" y1="5.0" x2="547.8" y2="13.0" stroke="#000" stroke-width="1.2"/>
<line x1="575.0" y1="6.0" x2="575.0" y2="368.0" stroke="#000" stroke-width="1.25" stroke-dasharray="3.4 2.3"/>
<line x1="575.0" y1="5.0" x2="575.0" y2="11.0" stroke="#000" stroke-width="1.2"/>
<line x1="602.2" y1="5.0" x2="602.2" y2="13.0" stroke="#000" stroke-width="1.2"/>
<line x1="84.5" y1="27.5" x2="89.5" y2="27.5" stroke="#000" stroke-width="1.2"/>
<line x1="624.0" y1="27.5" x2="629.0" y2="27.5" stroke="#000" stroke-width="1.2"/>
<line x1="84.5" y1="46.3" x2="89.5" y2="46.3" stroke="#000" stroke-width="1.2"/>
<line x1="624.0" y1="46.3" x2="629.0" y2="46.3" stroke="#000" stroke-width="1.2"/>
<line x1="84.5" y1="65.1" x2="98.5" y2="65.1" stroke="#000" stroke-width="1.2"/>
<line x1="615.0" y1="65.1" x2="629.0" y2="65.1" stroke="#000" stroke-width="1.2"/>
<line x1="84.5" y1="83.9" x2="89.5" y2="83.9" stroke="#000" stroke-width="1.2"/>
<line x1="624.0" y1="83.9" x2="629.0" y2="83.9" stroke="#000" stroke-width="1.2"/>
<line x1="84.5" y1="102.7" x2="89.5" y2="102.7" stroke="#000" stroke-width="1.2"/>
<line x1="624.0" y1="102.7" x2="629.0" y2="102.7" stroke="#000" stroke-width="1.2"/>
<line x1="84.5" y1="121.5" x2="89.5" y2="121.5" stroke="#000" stroke-width="1.2"/>
<line x1="624.0" y1="121.5" x2="629.0" y2="121.5" stroke="#000" stroke-width="1.2"/>
<line x1="84.5" y1="140.3" x2="98.5" y2="140.3" stroke="#000" stroke-width="1.2"/>
<line x1="615.0" y1="140.3" x2="629.0" y2="140.3" stroke="#000" stroke-width="1.2"/>
<line x1="84.5" y1="159.1" x2="89.5" y2="159.1" stroke="#000" stroke-width="1.2"/>
<line x1="624.0" y1="159.1" x2="629.0" y2="159.1" stroke="#000" stroke-width="1.2"/>
<line x1="84.5" y1="177.9" x2="89.5" y2="177.9" stroke="#000" stroke-width="1.2"/>
<line x1="624.0" y1="177.9" x2="629.0" y2="177.9" stroke="#000" stroke-width="1.2"/>
<line x1="84.5" y1="196.7" x2="89.5" y2="196.7" stroke="#000" stroke-width="1.2"/>
<line x1="624.0" y1="196.7" x2="629.0" y2="196.7" stroke="#000" stroke-width="1.2"/>
<line x1="84.5" y1="215.5" x2="98.5" y2="215.5" stroke="#000" stroke-width="1.2"/>
<line x1="615.0" y1="215.5" x2="629.0" y2="215.5" stroke="#000" stroke-width="1.2"/>
<line x1="84.5" y1="234.3" x2="89.5" y2="234.3" stroke="#000" stroke-width="1.2"/>
<line x1="624.0" y1="234.3" x2="629.0" y2="234.3" stroke="#000" stroke-width="1.2"/>
<line x1="84.5" y1="253.1" x2="89.5" y2="253.1" stroke="#000" stroke-width="1.2"/>
<line x1="624.0" y1="253.1" x2="629.0" y2="253.1" stroke="#000" stroke-width="1.2"/>
<line x1="84.5" y1="271.9" x2="89.5" y2="271.9" stroke="#000" stroke-width="1.2"/>
<line x1="624.0" y1="271.9" x2="629.0" y2="271.9" stroke="#000" stroke-width="1.2"/>
<line x1="84.5" y1="290.7" x2="98.5" y2="290.7" stroke="#000" stroke-width="1.2"/>
<line x1="615.0" y1="290.7" x2="629.0" y2="290.7" stroke="#000" stroke-width="1.2"/>
<line x1="84.5" y1="309.5" x2="89.5" y2="309.5" stroke="#000" stroke-width="1.2"/>
<line x1="624.0" y1="309.5" x2="629.0" y2="309.5" stroke="#000" stroke-width="1.2"/>
<line x1="84.5" y1="328.3" x2="89.5" y2="328.3" stroke="#000" stroke-width="1.2"/>
<line x1="624.0" y1="328.3" x2="629.0" y2="328.3" stroke="#000" stroke-width="1.2"/>
<line x1="84.5" y1="347.1" x2="89.5" y2="347.1" stroke="#000" stroke-width="1.2"/>
<line x1="624.0" y1="347.1" x2="629.0" y2="347.1" stroke="#000" stroke-width="1.2"/>
<rect x="84.5" y="5.0" width="544.5" height="363.0" fill="none" stroke="#000" stroke-width="1.5"/>
<line x1="125.0" y1="534.5" x2="125.0" y2="542.5" stroke="#000" stroke-width="1.2"/>
<line x1="151.1" y1="535.5" x2="151.1" y2="902.0" stroke="#000" stroke-width="1.25" stroke-dasharray="3.4 2.3"/>
<line x1="151.1" y1="534.5" x2="151.1" y2="540.5" stroke="#000" stroke-width="1.2"/>
<line x1="177.1" y1="534.5" x2="177.1" y2="542.5" stroke="#000" stroke-width="1.2"/>
<line x1="203.1" y1="535.5" x2="203.1" y2="902.0" stroke="#000" stroke-width="1.25" stroke-dasharray="3.4 2.3"/>
<line x1="203.1" y1="882.0" x2="203.1" y2="902.0" stroke="#000" stroke-width="1.2"/>
<line x1="203.1" y1="534.5" x2="203.1" y2="549.5" stroke="#000" stroke-width="1.2"/>
<line x1="229.1" y1="534.5" x2="229.1" y2="542.5" stroke="#000" stroke-width="1.2"/>
<line x1="255.2" y1="535.5" x2="255.2" y2="902.0" stroke="#000" stroke-width="1.25" stroke-dasharray="3.4 2.3"/>
<line x1="255.2" y1="534.5" x2="255.2" y2="540.5" stroke="#000" stroke-width="1.2"/>
<line x1="281.2" y1="534.5" x2="281.2" y2="542.5" stroke="#000" stroke-width="1.2"/>
<line x1="307.2" y1="535.5" x2="307.2" y2="902.0" stroke="#000" stroke-width="1.25" stroke-dasharray="3.4 2.3"/>
<line x1="307.2" y1="882.0" x2="307.2" y2="902.0" stroke="#000" stroke-width="1.2"/>
<line x1="307.2" y1="534.5" x2="307.2" y2="549.5" stroke="#000" stroke-width="1.2"/>
<line x1="333.2" y1="534.5" x2="333.2" y2="542.5" stroke="#000" stroke-width="1.2"/>
<line x1="359.2" y1="535.5" x2="359.2" y2="902.0" stroke="#000" stroke-width="1.25" stroke-dasharray="3.4 2.3"/>
<line x1="359.2" y1="534.5" x2="359.2" y2="540.5" stroke="#000" stroke-width="1.2"/>
<line x1="385.3" y1="534.5" x2="385.3" y2="542.5" stroke="#000" stroke-width="1.2"/>
<line x1="411.3" y1="535.5" x2="411.3" y2="902.0" stroke="#000" stroke-width="1.25" stroke-dasharray="3.4 2.3"/>
<line x1="411.3" y1="882.0" x2="411.3" y2="902.0" stroke="#000" stroke-width="1.2"/>
<line x1="411.3" y1="534.5" x2="411.3" y2="549.5" stroke="#000" stroke-width="1.2"/>
<line x1="437.3" y1="534.5" x2="437.3" y2="542.5" stroke="#000" stroke-width="1.2"/>
<line x1="463.3" y1="535.5" x2="463.3" y2="902.0" stroke="#000" stroke-width="1.25" stroke-dasharray="3.4 2.3"/>
<line x1="463.3" y1="534.5" x2="463.3" y2="540.5" stroke="#000" stroke-width="1.2"/>
<line x1="489.4" y1="534.5" x2="489.4" y2="542.5" stroke="#000" stroke-width="1.2"/>
<line x1="515.4" y1="535.5" x2="515.4" y2="902.0" stroke="#000" stroke-width="1.25" stroke-dasharray="3.4 2.3"/>
<line x1="515.4" y1="882.0" x2="515.4" y2="902.0" stroke="#000" stroke-width="1.2"/>
<line x1="515.4" y1="534.5" x2="515.4" y2="549.5" stroke="#000" stroke-width="1.2"/>
<line x1="541.4" y1="534.5" x2="541.4" y2="542.5" stroke="#000" stroke-width="1.2"/>
<line x1="567.4" y1="535.5" x2="567.4" y2="902.0" stroke="#000" stroke-width="1.25" stroke-dasharray="3.4 2.3"/>
<line x1="567.4" y1="534.5" x2="567.4" y2="540.5" stroke="#000" stroke-width="1.2"/>
<line x1="593.5" y1="534.5" x2="593.5" y2="542.5" stroke="#000" stroke-width="1.2"/>
<line x1="99.0" y1="559.5" x2="104.0" y2="559.5" stroke="#000" stroke-width="1.2"/>
<line x1="614.5" y1="559.5" x2="619.5" y2="559.5" stroke="#000" stroke-width="1.2"/>
<line x1="99.0" y1="584.0" x2="104.0" y2="584.0" stroke="#000" stroke-width="1.2"/>
<line x1="614.5" y1="584.0" x2="619.5" y2="584.0" stroke="#000" stroke-width="1.2"/>
<line x1="99.0" y1="608.4" x2="104.0" y2="608.4" stroke="#000" stroke-width="1.2"/>
<line x1="614.5" y1="608.4" x2="619.5" y2="608.4" stroke="#000" stroke-width="1.2"/>
<line x1="99.0" y1="632.9" x2="104.0" y2="632.9" stroke="#000" stroke-width="1.2"/>
<line x1="614.5" y1="632.9" x2="619.5" y2="632.9" stroke="#000" stroke-width="1.2"/>
<line x1="99.0" y1="657.3" x2="113.0" y2="657.3" stroke="#000" stroke-width="1.2"/>
<line x1="605.5" y1="657.3" x2="619.5" y2="657.3" stroke="#000" stroke-width="1.2"/>
<line x1="99.0" y1="681.8" x2="104.0" y2="681.8" stroke="#000" stroke-width="1.2"/>
<line x1="614.5" y1="681.8" x2="619.5" y2="681.8" stroke="#000" stroke-width="1.2"/>
<line x1="99.0" y1="706.2" x2="104.0" y2="706.2" stroke="#000" stroke-width="1.2"/>
<line x1="614.5" y1="706.2" x2="619.5" y2="706.2" stroke="#000" stroke-width="1.2"/>
<line x1="99.0" y1="730.7" x2="104.0" y2="730.7" stroke="#000" stroke-width="1.2"/>
<line x1="614.5" y1="730.7" x2="619.5" y2="730.7" stroke="#000" stroke-width="1.2"/>
<line x1="99.0" y1="755.1" x2="104.0" y2="755.1" stroke="#000" stroke-width="1.2"/>
<line x1="614.5" y1="755.1" x2="619.5" y2="755.1" stroke="#000" stroke-width="1.2"/>
<line x1="99.0" y1="779.6" x2="113.0" y2="779.6" stroke="#000" stroke-width="1.2"/>
<line x1="605.5" y1="779.6" x2="619.5" y2="779.6" stroke="#000" stroke-width="1.2"/>
<line x1="99.0" y1="804.0" x2="104.0" y2="804.0" stroke="#000" stroke-width="1.2"/>
<line x1="614.5" y1="804.0" x2="619.5" y2="804.0" stroke="#000" stroke-width="1.2"/>
<line x1="99.0" y1="828.5" x2="104.0" y2="828.5" stroke="#000" stroke-width="1.2"/>
<line x1="614.5" y1="828.5" x2="619.5" y2="828.5" stroke="#000" stroke-width="1.2"/>
<line x1="99.0" y1="852.9" x2="104.0" y2="852.9" stroke="#000" stroke-width="1.2"/>
<line x1="614.5" y1="852.9" x2="619.5" y2="852.9" stroke="#000" stroke-width="1.2"/>
<line x1="99.0" y1="877.4" x2="104.0" y2="877.4" stroke="#000" stroke-width="1.2"/>
<line x1="614.5" y1="877.4" x2="619.5" y2="877.4" stroke="#000" stroke-width="1.2"/>
<rect x="99.0" y="534.5" width="520.5" height="367.5" fill="none" stroke="#000" stroke-width="1.5"/>
<rect x="657.3" y="5.00" width="44.9" height="16.78" fill="rgb(255,48,48)"/>
<rect x="657.3" y="21.48" width="44.9" height="16.78" fill="rgb(248,120,16)"/>
<rect x="657.3" y="37.95" width="44.9" height="16.78" fill="rgb(248,176,16)"/>
<rect x="657.3" y="54.43" width="44.9" height="16.78" fill="rgb(240,224,32)"/>
<rect x="657.3" y="70.91" width="44.9" height="16.78" fill="rgb(255,255,80)"/>
<rect x="657.3" y="87.39" width="44.9" height="16.78" fill="rgb(240,240,48)"/>
<rect x="657.3" y="103.86" width="44.9" height="16.78" fill="rgb(200,232,40)"/>
<rect x="657.3" y="120.34" width="44.9" height="16.78" fill="rgb(144,224,48)"/>
<rect x="657.3" y="136.82" width="44.9" height="16.78" fill="rgb(48,224,24)"/>
<rect x="657.3" y="153.30" width="44.9" height="16.78" fill="rgb(0,208,72)"/>
<rect x="657.3" y="169.77" width="44.9" height="16.78" fill="rgb(0,184,80)"/>
<rect x="657.3" y="186.25" width="44.9" height="16.78" fill="rgb(0,176,112)"/>
<rect x="657.3" y="202.73" width="44.9" height="16.78" fill="rgb(0,184,152)"/>
<rect x="657.3" y="219.20" width="44.9" height="16.78" fill="rgb(0,216,200)"/>
<rect x="657.3" y="235.68" width="44.9" height="16.78" fill="rgb(0,224,255)"/>
<rect x="657.3" y="252.16" width="44.9" height="16.78" fill="rgb(0,184,255)"/>
<rect x="657.3" y="268.64" width="44.9" height="16.78" fill="rgb(0,152,255)"/>
<rect x="657.3" y="285.11" width="44.9" height="16.78" fill="rgb(0,120,248)"/>
<rect x="657.3" y="301.59" width="44.9" height="16.78" fill="rgb(0,80,240)"/>
<rect x="657.3" y="318.07" width="44.9" height="16.78" fill="rgb(0,32,232)"/>
<rect x="657.3" y="334.55" width="44.9" height="16.78" fill="rgb(0,44,160)"/>
<rect x="657.3" y="351.02" width="44.9" height="16.48" fill="rgb(0,36,128)"/>
<line x1="702.2" y1="6.0" x2="702.2" y2="367.5" stroke="#000" stroke-width="1.2"/>
<line x1="698.2" y1="34.8" x2="702.2" y2="34.8" stroke="#000" stroke-width="1"/>
<line x1="698.2" y1="63.8" x2="702.2" y2="63.8" stroke="#000" stroke-width="1"/>
<line x1="698.2" y1="92.8" x2="702.2" y2="92.8" stroke="#000" stroke-width="1"/>
<line x1="698.2" y1="121.8" x2="702.2" y2="121.8" stroke="#000" stroke-width="1"/>
<line x1="688.2" y1="150.8" x2="702.2" y2="150.8" stroke="#000" stroke-width="1"/>
<line x1="698.2" y1="179.8" x2="702.2" y2="179.8" stroke="#000" stroke-width="1"/>
<line x1="698.2" y1="208.8" x2="702.2" y2="208.8" stroke="#000" stroke-width="1"/>
<line x1="698.2" y1="237.8" x2="702.2" y2="237.8" stroke="#000" stroke-width="1"/>
<line x1="698.2" y1="266.8" x2="702.2" y2="266.8" stroke="#000" stroke-width="1"/>
<line x1="688.2" y1="295.8" x2="702.2" y2="295.8" stroke="#000" stroke-width="1"/>
<line x1="698.2" y1="324.8" x2="702.2" y2="324.8" stroke="#000" stroke-width="1"/>
<line x1="698.2" y1="353.8" x2="702.2" y2="353.8" stroke="#000" stroke-width="1"/>
<rect x="645.4" y="534.40" width="45.0" height="16.94" fill="rgb(255,48,48)"/>
<rect x="645.4" y="551.04" width="45.0" height="16.94" fill="rgb(248,120,16)"/>
<rect x="645.4" y="567.67" width="45.0" height="16.94" fill="rgb(248,176,16)"/>
<rect x="645.4" y="584.31" width="45.0" height="16.94" fill="rgb(240,224,32)"/>
<rect x="645.4" y="600.95" width="45.0" height="16.94" fill="rgb(255,255,80)"/>
<rect x="645.4" y="617.58" width="45.0" height="16.94" fill="rgb(240,240,48)"/>
<rect x="645.4" y="634.22" width="45.0" height="16.94" fill="rgb(200,232,40)"/>
<rect x="645.4" y="650.85" width="45.0" height="16.94" fill="rgb(144,224,48)"/>
<rect x="645.4" y="667.49" width="45.0" height="16.94" fill="rgb(48,224,24)"/>
<rect x="645.4" y="684.13" width="45.0" height="16.94" fill="rgb(0,208,72)"/>
<rect x="645.4" y="700.76" width="45.0" height="16.94" fill="rgb(0,184,80)"/>
<rect x="645.4" y="717.40" width="45.0" height="16.94" fill="rgb(0,176,112)"/>
<rect x="645.4" y="734.04" width="45.0" height="16.94" fill="rgb(0,184,152)"/>
<rect x="645.4" y="750.67" width="45.0" height="16.94" fill="rgb(0,216,200)"/>
<rect x="645.4" y="767.31" width="45.0" height="16.94" fill="rgb(0,224,255)"/>
<rect x="645.4" y="783.95" width="45.0" height="16.94" fill="rgb(0,184,255)"/>
<rect x="645.4" y="800.58" width="45.0" height="16.94" fill="rgb(0,152,255)"/>
<rect x="645.4" y="817.22" width="45.0" height="16.94" fill="rgb(0,120,248)"/>
<rect x="645.4" y="833.85" width="45.0" height="16.94" fill="rgb(0,80,240)"/>
<rect x="645.4" y="850.49" width="45.0" height="16.94" fill="rgb(0,32,232)"/>
<rect x="645.4" y="867.13" width="45.0" height="16.94" fill="rgb(0,44,160)"/>
<rect x="645.4" y="883.76" width="45.0" height="16.64" fill="rgb(0,36,128)"/>
<line x1="690.4" y1="535.4" x2="690.4" y2="900.4" stroke="#000" stroke-width="1.2"/>
<line x1="686.4" y1="564.5" x2="690.4" y2="564.5" stroke="#000" stroke-width="1"/>
<line x1="686.4" y1="593.8" x2="690.4" y2="593.8" stroke="#000" stroke-width="1"/>
<line x1="686.4" y1="623.0" x2="690.4" y2="623.0" stroke="#000" stroke-width="1"/>
<line x1="686.4" y1="652.3" x2="690.4" y2="652.3" stroke="#000" stroke-width="1"/>
<line x1="676.4" y1="681.6" x2="690.4" y2="681.6" stroke="#000" stroke-width="1"/>
<line x1="686.4" y1="710.9" x2="690.4" y2="710.9" stroke="#000" stroke-width="1"/>
<line x1="686.4" y1="740.2" x2="690.4" y2="740.2" stroke="#000" stroke-width="1"/>
<line x1="686.4" y1="769.4" x2="690.4" y2="769.4" stroke="#000" stroke-width="1"/>
<line x1="686.4" y1="798.7" x2="690.4" y2="798.7" stroke="#000" stroke-width="1"/>
<line x1="676.4" y1="828.0" x2="690.4" y2="828.0" stroke="#000" stroke-width="1"/>
<line x1="686.4" y1="857.3" x2="690.4" y2="857.3" stroke="#000" stroke-width="1"/>
<line x1="686.4" y1="886.6" x2="690.4" y2="886.6" stroke="#000" stroke-width="1"/>
<text transform="translate(74.8 28.3)" font-size="25" text-anchor="end" font-weight="normal" font-family="'Liberation Sans', sans-serif" letter-spacing="-0.9">47.5</text>
<text transform="translate(74.8 363.4)" font-size="25" text-anchor="end" font-weight="normal" font-family="'Liberation Sans', sans-serif" letter-spacing="-0.9">0.0</text>
<text transform="translate(86.0 394.2)" font-size="24.5" text-anchor="start" font-weight="normal" font-family="'Liberation Sans', sans-serif" letter-spacing="-1.6">0</text>
<text transform="translate(194.2 394.2)" font-size="24.5" text-anchor="middle" font-weight="normal" font-family="'Liberation Sans', sans-serif" letter-spacing="-1.6">2000</text>
<text transform="translate(302.9 394.2)" font-size="24.5" text-anchor="middle" font-weight="normal" font-family="'Liberation Sans', sans-serif" letter-spacing="-1.6">4000</text>
<text transform="translate(410.8 394.2)" font-size="24.5" text-anchor="middle" font-weight="normal" font-family="'Liberation Sans', sans-serif" letter-spacing="-1.6">6000</text>
<text transform="translate(519.4 394.2)" font-size="24.5" text-anchor="middle" font-weight="normal" font-family="'Liberation Sans', sans-serif" letter-spacing="-1.6">8000</text>
<text transform="translate(630.0 394.2)" font-size="24.5" text-anchor="end" font-weight="normal" font-family="'Liberation Sans', sans-serif" letter-spacing="-1.6">10000</text>
<text transform="translate(359.0 439.0) scale(0.985 1)" font-size="28.8" text-anchor="middle" font-weight="bold" font-family="'Liberation Sans', sans-serif" letter-spacing="0">Frequency (Hz)</text>
<text transform="translate(25.2 248.2) rotate(-90) scale(0.925 1)" font-size="32" text-anchor="start" font-weight="bold" font-family="'Liberation Sans', sans-serif" letter-spacing="0">Time (sec)</text>
<text transform="translate(778.8 371.2) rotate(-90) scale(0.957 1)" font-size="28.8" text-anchor="start" font-weight="bold" font-family="'Liberation Sans', sans-serif" letter-spacing="0">Sound Pressure Level dB(A)</text>
<text transform="translate(712.0 28.0)" font-size="24.5" text-anchor="start" font-weight="normal" font-family="'Liberation Sans', sans-serif" letter-spacing="-1.6">80</text>
<text transform="translate(712.0 363.4)" font-size="24.5" text-anchor="start" font-weight="normal" font-family="'Liberation Sans', sans-serif" letter-spacing="-1.6">55</text>
<text x="357.8" y="485" font-size="32.4" text-anchor="middle" font-family="'Liberation Serif', serif"><tspan font-weight="bold">(a)</tspan> 20 km/h</text>
<text transform="translate(88.5 559.6)" font-size="25" text-anchor="end" font-weight="normal" font-family="'Liberation Sans', sans-serif" letter-spacing="-0.9">30.0</text>
<text transform="translate(88.5 897.3)" font-size="25" text-anchor="end" font-weight="normal" font-family="'Liberation Sans', sans-serif" letter-spacing="-0.9">0.0</text>
<text transform="translate(100.0 930.0)" font-size="24.5" text-anchor="start" font-weight="normal" font-family="'Liberation Sans', sans-serif" letter-spacing="-1.6">0</text>
<text transform="translate(202.4 930.0)" font-size="24.5" text-anchor="middle" font-weight="normal" font-family="'Liberation Sans', sans-serif" letter-spacing="-1.6">2000</text>
<text transform="translate(308.0 930.0)" font-size="24.5" text-anchor="middle" font-weight="normal" font-family="'Liberation Sans', sans-serif" letter-spacing="-1.6">4000</text>
<text transform="translate(410.6 930.0)" font-size="24.5" text-anchor="middle" font-weight="normal" font-family="'Liberation Sans', sans-serif" letter-spacing="-1.6">6000</text>
<text transform="translate(514.2 930.0)" font-size="24.5" text-anchor="middle" font-weight="normal" font-family="'Liberation Sans', sans-serif" letter-spacing="-1.6">8000</text>
<text transform="translate(618.8 930.0)" font-size="24.5" text-anchor="end" font-weight="normal" font-family="'Liberation Sans', sans-serif" letter-spacing="-1.6">10000</text>
<text transform="translate(359.0 971.3) scale(0.985 1)" font-size="28.8" text-anchor="middle" font-weight="bold" font-family="'Liberation Sans', sans-serif" letter-spacing="0">Frequency (Hz)</text>
<text transform="translate(25.2 781.0) rotate(-90) scale(0.925 1)" font-size="32" text-anchor="start" font-weight="bold" font-family="'Liberation Sans', sans-serif" letter-spacing="0">Time (sec)</text>
<text transform="translate(770.3 902.4) rotate(-90) scale(0.957 1)" font-size="28.8" text-anchor="start" font-weight="bold" font-family="'Liberation Sans', sans-serif" letter-spacing="0">Sound Pressure Level dB(A)</text>
<text transform="translate(702.5 559.0)" font-size="24.5" text-anchor="start" font-weight="normal" font-family="'Liberation Sans', sans-serif" letter-spacing="-1.6">80</text>
<text transform="translate(702.5 897.0)" font-size="24.5" text-anchor="start" font-weight="normal" font-family="'Liberation Sans', sans-serif" letter-spacing="-1.6">55</text>
<text x="357.8" y="1016.5" font-size="32.4" text-anchor="middle" font-family="'Liberation Serif', serif"><tspan font-weight="bold">(b)</tspan> 30 km/h</text>
</svg>
</body></html>
